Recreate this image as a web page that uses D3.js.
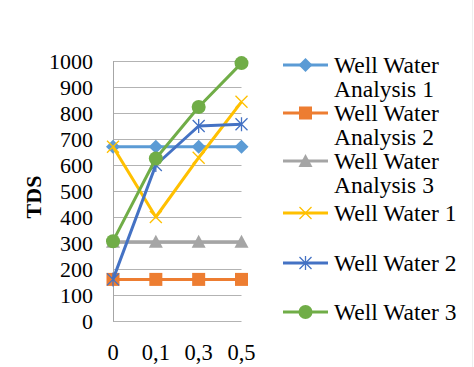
<!DOCTYPE html>
<html>
<head>
<meta charset="utf-8">
<script src="https://cdn.jsdelivr.net/npm/d3@7"></script>
<style>
  body { margin: 0; background: #fff; }
</style>
</head>
<body>
<svg id="chart"></svg>
<script>
// [A] Datos -------------------------------------------------------------------
const categories = ["0", "0,1", "0,3", "0,5"];
const seriesNames = ["Well Water Analysis 1", "Well Water Analysis 2", "Well Water Analysis 3",
                     "Well Water 1", "Well Water 2", "Well Water 3"];
const analysis1 = [670, 670, 670, 670];
const analysis2 = [160, 160, 160, 160];
const analysis3 = [305, 305, 305, 305];
const water1 = [670, 400, 628, 843];
const water2 = [160, 600, 750, 757];
const water3 = [307, 625, 823, 992];
const yTicks = [0, 100, 200, 300, 400, 500, 600, 700, 800, 900, 1000];
const legendLines = [["Well Water", "Analysis 1"], ["Well Water", "Analysis 2"], ["Well Water", "Analysis 3"],
                     ["Well Water 1"], ["Well Water 2"], ["Well Water 3"]];

const colors = ["#5B9BD5", "#ED7D31", "#A5A5A5", "#FFC000", "#4472C4", "#70AD47"];
const markers = ["diamond", "square", "triangle", "cross", "star", "circle"];
const allSeries = [analysis1, analysis2, analysis3, water1, water2, water3];

// [B] Configuracion -----------------------------------------------------------
const width = 474, height = 367;
const font = "Liberation Serif";
const svg = d3.select("#chart").attr("width", width).attr("height", height)
    .attr("font-family", font);

const x = d3.scalePoint().domain(categories).range([113, 241.5]);
const y = d3.scaleLinear().domain([0, 1000]).range([321, 61]);

// [C] Cuadricula y ejes -------------------------------------------------------
svg.append("g").selectAll("line")
    .data(yTicks)
    .join("line")
    .attr("x1", 113).attr("x2", 241.5)
    .attr("y1", d => Math.round(y(d)) + 0.5).attr("y2", d => Math.round(y(d)) + 0.5)
    .attr("stroke", "#B3B3B3").attr("stroke-width", 1);

svg.append("line")
    .attr("x1", 113.5).attr("x2", 113.5)
    .attr("y1", y(1000)).attr("y2", y(0) + 0.5)
    .attr("stroke", "#A6A6A6");

svg.append("g").selectAll("text")
    .data(yTicks)
    .join("text")
    .attr("x", 93).attr("y", d => y(d) + 7.5)
    .attr("text-anchor", "end")
    .attr("font-family", font)
    .attr("font-size", 22)
    .text(d => d);

svg.append("g").selectAll("text")
    .data(categories)
    .join("text")
    .attr("x", d => x(d)).attr("y", 360)
    .attr("text-anchor", "middle")
    .attr("font-family", font)
    .attr("font-size", 22.5)
    .text(d => d);

svg.append("text")
    .attr("transform", "translate(41,197) rotate(-90)")
    .attr("text-anchor", "middle")
    .attr("font-family", font)
    .attr("font-size", 22)
    .attr("font-weight", "bold")
    .text("TDS");

// [D] Marcadores --------------------------------------------------------------
function drawMarker(g, type, cx, cy, color) {
    if (type === "diamond") {
        g.append("path").attr("d", `M${cx},${cy - 7}L${cx + 7},${cy}L${cx},${cy + 7}L${cx - 7},${cy}Z`).attr("fill", color);
    } else if (type === "square") {
        g.append("rect").attr("x", cx - 6.5).attr("y", cy - 6.5).attr("width", 13).attr("height", 13).attr("fill", color);
    } else if (type === "triangle") {
        g.append("path").attr("d", `M${cx},${cy - 7}L${cx + 7},${cy + 6}L${cx - 7},${cy + 6}Z`).attr("fill", color);
    } else if (type === "cross") {
        g.append("path").attr("d", `M${cx - 6},${cy - 6}L${cx + 6},${cy + 6}M${cx - 6},${cy + 6}L${cx + 6},${cy - 6}`)
            .attr("stroke", color).attr("stroke-width", 1.3).attr("fill", "none");
    } else if (type === "star") {
        g.append("path").attr("d", `M${cx - 6},${cy - 6}L${cx + 6},${cy + 6}M${cx - 6},${cy + 6}L${cx + 6},${cy - 6}M${cx},${cy - 7}L${cx},${cy + 7}`)
            .attr("stroke", color).attr("stroke-width", 1.3).attr("fill", "none");
    } else {
        g.append("circle").attr("cx", cx).attr("cy", cy).attr("r", 7).attr("fill", color);
    }
}

// [E] Series ------------------------------------------------------------------
const line = d3.line().x((d, i) => x(categories[i])).y(d => y(d));

allSeries.forEach((values, s) => {
    const g = svg.append("g");
    g.append("path")
        .attr("d", line(values))
        .attr("fill", "none")
        .attr("stroke", colors[s])
        .attr("stroke-width", 3)
        .attr("stroke-linejoin", "round");
    values.forEach((v, i) => drawMarker(g, markers[s], x(categories[i]), y(v), colors[s]));
});

// [F] Leyenda -----------------------------------------------------------------
const legendY = [65, 113, 161, 213, 263, 312];
seriesNames.forEach((name, s) => {
    const g = svg.append("g");
    const cy = legendY[s];
    g.append("line").attr("x1", 283).attr("x2", 328).attr("y1", cy).attr("y2", cy)
        .attr("stroke", colors[s]).attr("stroke-width", 3);
    drawMarker(g, markers[s], 305.5, cy, colors[s]);
    legendLines[s].forEach((txt, k) => {
        g.append("text")
            .attr("x", 334).attr("y", cy + 8 + k * 23.5)
            .attr("font-family", font)
            .attr("font-size", 23.5)
            .text(txt);
    });
});

svg.append("line").attr("x1", 472.5).attr("x2", 472.5).attr("y1", 0).attr("y2", height)
    .attr("stroke", "#EEEEEE");
</script>
</body>
</html>
